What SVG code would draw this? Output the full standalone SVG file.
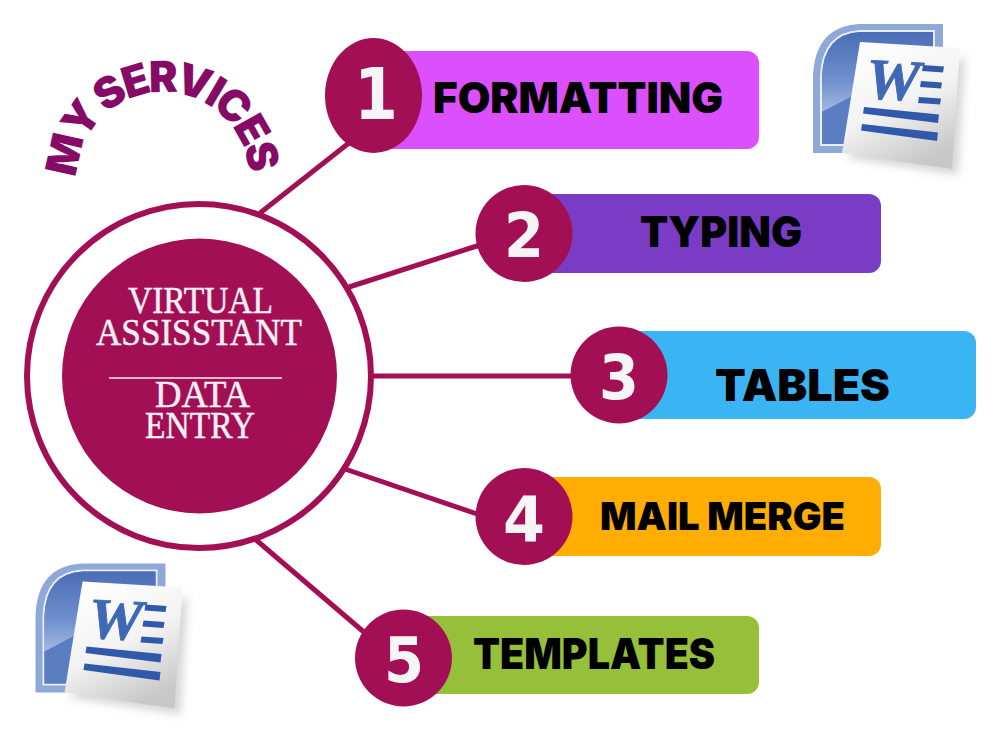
<svg xmlns="http://www.w3.org/2000/svg" xmlns:xlink="http://www.w3.org/1999/xlink" width="1000" height="750" viewBox="0 0 1000 750">
<style>
.bub{fill:#a30f55}
.num{font-family:"DejaVu Sans",sans-serif;font-weight:700;fill:#f5f5f5;text-anchor:middle}
.lab{font-family:Inter,"Liberation Sans",sans-serif;font-weight:900;fill:#000}
.conn{stroke:#a30f55;stroke-width:5;fill:none}
.fancy{font-family:"Liberation Serif",serif;fill:#f3f0f3;stroke:#f3f0f3;stroke-width:0.5}
</style>
<defs>
<linearGradient id="pageG" x1="0.1" y1="0" x2="0.55" y2="1"><stop offset="0" stop-color="#ffffff"/><stop offset="0.55" stop-color="#f3f3f3"/><stop offset="1" stop-color="#c8c8c8"/></linearGradient>
<linearGradient id="backG" x1="0" y1="0" x2="0" y2="1"><stop offset="0" stop-color="#4a6db6"/><stop offset="0.6" stop-color="#6f8fcd"/><stop offset="1" stop-color="#a3b9e0"/></linearGradient>
<filter id="soft" x="-20%" y="-20%" width="140%" height="140%"><feGaussianBlur stdDeviation="4"/></filter>
<g id="wordIcon">
<path d="M813 153V76Q815 26 860 24H943V153Z" fill="#8ea8d8"/>
<path d="M821 145V76Q823 33 860 31H934V145Z" fill="#5678bd" stroke="#e9eef8" stroke-width="2"/>
<path d="M822 112V76Q824 34 860 32H933V70L860 92Z" fill="url(#backG)"/>
<path d="M822 144V112L862 93V144Z" fill="#5b7dc2"/>
<polygon points="846,158 965,55 958,175" fill="#777" opacity="0.3" filter="url(#soft)"/>
<polygon points="860,42 960,48 952,169 842,153" fill="url(#pageG)"/>
<text x="865" y="98" transform="rotate(3 865 98)" font-family="Liberation Serif,serif" font-weight="700" font-style="italic" font-size="58" fill="#3f68b6" stroke="#3f68b6" stroke-width="0.8" textLength="54" lengthAdjust="spacingAndGlyphs">W</text>
<g fill="#3159ab">
<polygon points="923,65 944,66.500 943,72.500 922,71"/>
<polygon points="921,81 942,82.500 941,88.500 920,87"/>
<polygon points="919,97 941,98.500 940,104.500 918,103"/>
<polygon points="864,107 939,114.500 938,123 863,113.500"/>
<polygon points="862,124 938,132.500 937,141 861,130.500"/>
</g>
</g>
</defs>
<rect width="1000" height="750" fill="#ffffff"/>
<g id="connectors">
<line class="conn" x1="260" y1="213" x2="354" y2="139"/>
<line class="conn" x1="349" y1="287" x2="480" y2="245"/>
<line class="conn" x1="373" y1="376" x2="575" y2="376"/>
<line class="conn" x1="345" y1="469" x2="480" y2="515"/>
<line class="conn" x1="255" y1="539" x2="365" y2="633"/>
</g>
<g id="title">
<path id="arc" d="M77 178A86 86 0 0 1 249 178" fill="none"/>
<text font-family="Inter,'Liberation Sans',sans-serif" font-weight="900" font-size="43" fill="#860b67" letter-spacing="-3.400"><textPath href="#arc" xlink:href="#arc">MY SERVICES</textPath></text>
</g>
<g id="hub">
<circle cx="199" cy="376" r="172" fill="#fff" stroke="#a30f55" stroke-width="6"/>
<circle class="bub" cx="199.500" cy="376" r="137.500"/>
<text class="fancy" x="128" y="313" font-size="38" textLength="145" lengthAdjust="spacingAndGlyphs">VIRTUAL</text>
<text class="fancy" x="96" y="345" font-size="38" textLength="206" lengthAdjust="spacingAndGlyphs">ASSISSTANT</text>
<line x1="109" y1="378" x2="282" y2="378" stroke="#f3f0f3" stroke-width="1.500"/>
<text class="fancy" x="155" y="407" font-size="38" textLength="95" lengthAdjust="spacingAndGlyphs">DATA</text>
<text class="fancy" x="145" y="438" font-size="38" textLength="110" lengthAdjust="spacingAndGlyphs">ENTRY</text>
</g>
<g id="node-1">
<rect x="360" y="51" width="399" height="98" rx="12" fill="#dc4ffc"/>
<ellipse class="bub" cx="373.500" cy="95.500" rx="48.500" ry="57.500"/>
<text class="num" x="376" y="119" font-size="71" textLength="44" lengthAdjust="spacingAndGlyphs">1</text>
<text class="lab" x="433" y="113" font-size="42.500" textLength="290" lengthAdjust="spacingAndGlyphs">FORMATTING</text>
</g>
<g id="node-2">
<rect x="510" y="194" width="371" height="79" rx="12" fill="#7a3cc5"/>
<circle class="bub" cx="524" cy="233.500" r="48.500"/>
<text class="num" x="524" y="257" font-size="62" textLength="40" lengthAdjust="spacingAndGlyphs">2</text>
<text class="lab" x="640" y="247" font-size="42.500" textLength="162" lengthAdjust="spacingAndGlyphs">TYPING</text>
</g>
<g id="node-3">
<rect x="600" y="331" width="376" height="88" rx="12" fill="#3ab4f2"/>
<circle class="bub" cx="619" cy="375" r="48.500"/>
<text class="num" x="619" y="399" font-size="62" textLength="40" lengthAdjust="spacingAndGlyphs">3</text>
<text class="lab" x="715" y="401" font-size="44" textLength="175" lengthAdjust="spacingAndGlyphs">TABLES</text>
</g>
<g id="node-4">
<rect x="510" y="477" width="371" height="79" rx="12" fill="#ffad00"/>
<circle class="bub" cx="524" cy="516.500" r="48.500"/>
<text class="num" x="524" y="541" font-size="62" textLength="42" lengthAdjust="spacingAndGlyphs">4</text>
<text class="lab" x="600" y="530" font-size="39" textLength="245" lengthAdjust="spacingAndGlyphs">MAIL MERGE</text>
</g>
<g id="node-5">
<rect x="390" y="616" width="369" height="78" rx="12" fill="#96c03a"/>
<circle class="bub" cx="403.500" cy="658" r="48.500"/>
<text class="num" x="404" y="682" font-size="62" textLength="40" lengthAdjust="spacingAndGlyphs">5</text>
<text class="lab" x="473" y="669" font-size="42" textLength="242" lengthAdjust="spacingAndGlyphs">TEMPLATES</text>
</g>
<g id="word-icon-top"><use href="#wordIcon" xlink:href="#wordIcon"/></g>
<g id="word-icon-bottom" transform="translate(-777.500 539.500)"><use href="#wordIcon" xlink:href="#wordIcon"/></g>
</svg>
